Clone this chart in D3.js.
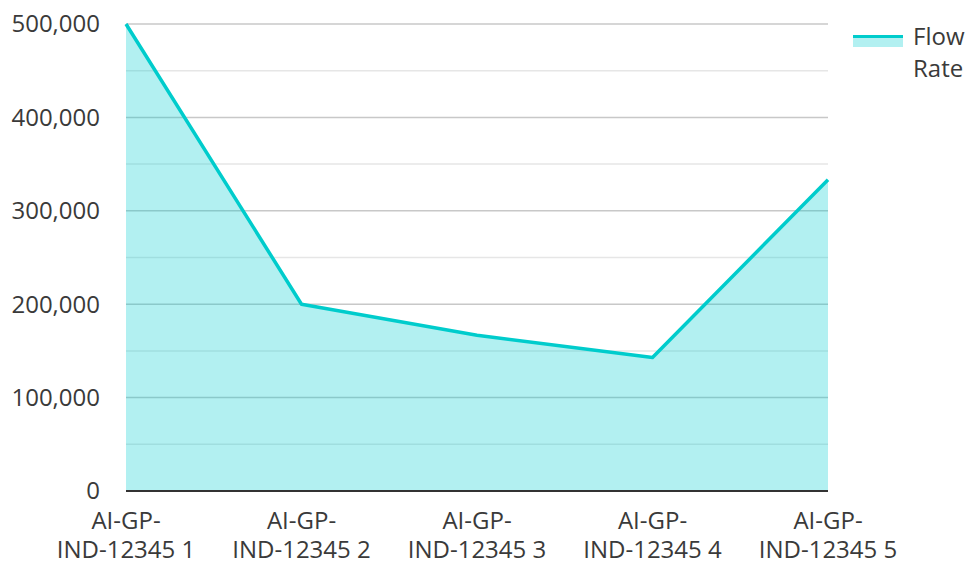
<!DOCTYPE html>
<html>
<head>
<meta charset="utf-8">
<script src="https://cdn.jsdelivr.net/npm/d3@7"></script>
<style>
  body { margin: 0; background: #fff; }
  text { font-family: "Open Sans", "Noto Sans", sans-serif; fill: #3a3a3a; }
</style>
</head>
<body>
<div id="chart"></div>
<script>
// data
const wells = ["AI-GP-IND-12345 1", "AI-GP-IND-12345 2", "AI-GP-IND-12345 3", "AI-GP-IND-12345 4", "AI-GP-IND-12345 5"];
const flowRate = [500000, 200000, 166667, 142857, 333333];
const yTicks = [0, 100000, 200000, 300000, 400000, 500000];
const seriesName = "Flow Rate";

const width = 966, height = 561;
const margin = { top: 24, right: 138, bottom: 70, left: 126 };

const lineColour = "#00cccc";
const fillColour = "rgba(0, 206, 209, 0.3)";

const svg = d3.select("#chart").append("svg")
  .attr("width", width)
  .attr("height", height);

const x = d3.scalePoint()
  .domain(wells)
  .range([margin.left, width - margin.right]);

const y = d3.scaleLinear()
  .domain([0, 500000])
  .range([height - margin.bottom, margin.top]);

// minor grid lines (half steps)
const minor = d3.range(50000, 500000, 100000);
svg.append("g")
  .selectAll("line")
  .data(minor)
  .join("line")
  .attr("x1", margin.left).attr("x2", width - margin.right)
  .attr("y1", d => y(d)).attr("y2", d => y(d))
  .attr("stroke", "#e6e6e6").attr("stroke-width", 1.5);

// major grid lines
svg.append("g")
  .selectAll("line")
  .data(yTicks.filter(d => d > 0))
  .join("line")
  .attr("x1", margin.left).attr("x2", width - margin.right)
  .attr("y1", d => y(d)).attr("y2", d => y(d))
  .attr("stroke", "#c8c8c8").attr("stroke-width", 1.5);

// area + line
const area = d3.area()
  .x((d, i) => x(wells[i]))
  .y0(y(0))
  .y1(d => y(d));

const line = d3.line()
  .x((d, i) => x(wells[i]))
  .y(d => y(d));

svg.append("path")
  .datum(flowRate)
  .attr("d", area)
  .attr("fill", fillColour);

svg.append("path")
  .datum(flowRate)
  .attr("d", line)
  .attr("fill", "none")
  .attr("stroke", lineColour)
  .attr("stroke-width", 3.5)
  .attr("stroke-linejoin", "round");

// baseline
svg.append("line")
  .attr("x1", margin.left).attr("x2", width - margin.right)
  .attr("y1", y(0)).attr("y2", y(0))
  .attr("stroke", "#333").attr("stroke-width", 2);

// y axis labels
const fmt = d3.format(",");
svg.append("g")
  .selectAll("text")
  .data(yTicks)
  .join("text")
  .attr("x", 100)
  .attr("y", d => y(d))
  .attr("dy", "0.35em")
  .attr("text-anchor", "end")
  .style("font-size", "24px")
  .text(d => fmt(d));

// x axis labels, wrapped in two lines
const xl = svg.append("g")
  .selectAll("text")
  .data(wells)
  .join("text")
  .attr("x", d => x(d))
  .attr("y", 529)
  .attr("text-anchor", "middle")
  .style("font-size", "24px");

xl.append("tspan")
  .attr("x", d => x(d))
  .text(d => d.slice(0, 6));
xl.append("tspan")
  .attr("x", d => x(d))
  .attr("dy", 29)
  .text(d => d.slice(6));

// legend
const lg = svg.append("g").attr("transform", "translate(853, 35)");
lg.append("rect")
  .attr("x", 0).attr("y", 0)
  .attr("width", 50).attr("height", 12)
  .attr("fill", fillColour);
lg.append("line")
  .attr("x1", 0).attr("x2", 50)
  .attr("y1", 1.5).attr("y2", 1.5)
  .attr("stroke", lineColour).attr("stroke-width", 3);
const lt = lg.append("text")
  .attr("x", 60).attr("y", 9.5)
  .style("font-size", "24px");
const words = seriesName.split(" ");
lt.append("tspan").attr("x", 60).text(words[0]);
lt.append("tspan").attr("x", 60).attr("dy", 32).text(words[1]);
</script>
</body>
</html>
